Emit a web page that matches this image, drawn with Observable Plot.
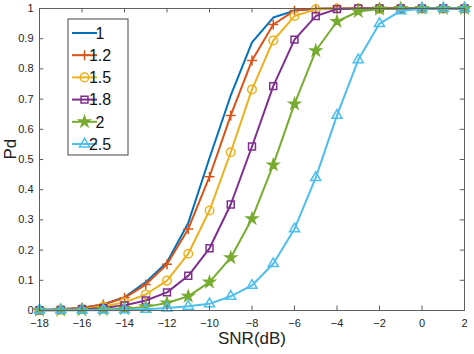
<!DOCTYPE html>
<html><head><meta charset="utf-8">
<script src="https://cdn.jsdelivr.net/npm/d3@7"></script>
<script src="https://cdn.jsdelivr.net/npm/@observablehq/plot@0.6"></script>
<style>body{margin:0;background:#fff}#chart{width:474px;height:354px}</style>
</head><body><div id="chart"></div>
<script>
const snr = [-18,-17,-16,-15,-14,-13,-12,-11,-10,-9,-8,-7,-6,-5,-4,-3,-2,-1,0,1,2];
const seriesNames = ["1","1.2","1.5","1.8","2","2.5"];
const colors = ["#0072BD","#D95319","#EDB120","#7E2F8E","#77AC30","#4DBEEE"];
const pd_1   = [0.002,0.004,0.008,0.020,0.044,0.094,0.160,0.290,0.505,0.712,0.888,0.970,0.993,0.999,1,1,1,1,1,1,1];
const pd_1_2 = [0.002,0.004,0.009,0.020,0.042,0.086,0.153,0.270,0.443,0.646,0.828,0.947,0.993,0.999,1,1,1,1,1,1,1];
const pd_1_5 = [0.001,0.003,0.006,0.013,0.027,0.053,0.099,0.188,0.331,0.524,0.732,0.894,0.975,0.997,1,1,1,1,1,1,1];
const pd_1_8 = [0.001,0.002,0.004,0.008,0.017,0.033,0.060,0.115,0.206,0.351,0.543,0.743,0.897,0.975,0.998,1,1,1,1,1,1];
const pd_2   = [0.001,0.001,0.002,0.003,0.006,0.012,0.025,0.047,0.094,0.175,0.304,0.482,0.684,0.860,0.957,0.990,0.998,1,1,1,1];
const pd_2_5 = [0.001,0.001,0.001,0.001,0.002,0.004,0.008,0.014,0.022,0.047,0.083,0.155,0.270,0.440,0.646,0.830,0.950,0.992,0.999,1,1];
const xTicks = [-18,-16,-14,-12,-10,-8,-6,-4,-2,0,2];
const yTicks = [0,0.1,0.2,0.3,0.4,0.5,0.6,0.7,0.8,0.9,1];
const xLabel = "SNR(dB)";
const yLabel = "Pd";

const values = [pd_1, pd_1_2, pd_1_5, pd_1_8, pd_2, pd_2_5];
// marker styles per series: symbol, r, filled
const markers = [null, {symbol:"plus", r:3.3, fill:false}, {symbol:"circle", r:4.3, fill:false},
  {symbol:"square2", r:4.4, fill:false}, {symbol:"star", r:3.4, fill:true}, {symbol:"triangle2", r:4.8, fill:false}];

const rows = [];
seriesNames.forEach((s, i) => snr.forEach((x, j) => rows.push({snr: x, pd: values[i][j], series: s})));

const axisColor = "#5f5f5f";
const seriesMarks = [];
seriesNames.forEach((s, i) => {
  const d = rows.filter(r => r.series === s);
  seriesMarks.push(Plot.line(d, {x: "snr", y: "pd", stroke: colors[i], strokeWidth: 2}));
  const m = markers[i];
  if (m) seriesMarks.push(Plot.dot(d, {x: "snr", y: "pd", symbol: () => m.symbol, r: m.r,
    stroke: colors[i], strokeWidth: 1.5, fill: m.fill ? colors[i] : "none"}));
});

const yFmt = d => String(+d.toFixed(1));

const plot = Plot.plot({
  width: 474, height: 354,
  marginTop: 8, marginBottom: 44, marginLeft: 39, marginRight: 10,
  style: {fontFamily: "'Liberation Sans', Arial, sans-serif", background: "#fff", color: "#262626", overflow: "visible"},
  x: {domain: [-18, 2]},
  y: {domain: [0, 1]},
  symbol: {type: "identity"},
  marks: [
    Plot.axisX(xTicks, {tickSize: 0, tickPadding: 9, fontSize: 11, label: null}),
    Plot.axisY(yTicks, {tickSize: 0, tickPadding: 6, fontSize: 11, label: null, tickFormat: yFmt}),
    ...seriesMarks,
    Plot.ruleX(xTicks, {x: d => d, y1: 0, y2: 0.015, stroke: axisColor}),
    Plot.ruleX(xTicks, {x: d => d, y1: 1, y2: 0.985, stroke: axisColor}),
    Plot.ruleY(yTicks, {y: d => d, x1: -18, x2: -17.8, stroke: axisColor}),
    Plot.ruleY(yTicks, {y: d => d, x1: 2, x2: 1.8, stroke: axisColor}),
    Plot.frame({stroke: axisColor, strokeWidth: 1}),
    Plot.text([xLabel], {text: d => d, frameAnchor: "bottom", dy: 33, fontSize: 17, fill: "#222"}),
    Plot.text([yLabel], {text: d => d, frameAnchor: "left", dx: -29, rotate: -90, fontSize: 17, fill: "#222"})
  ]
});

// legend
const svg = d3.select(plot);
const lg = svg.append("g").attr("font-family", "'Liberation Sans', Arial, sans-serif");
const lx = 68, ly = 19, lw = 60, lh = 136, step = 22.2;
lg.append("rect").attr("x", lx).attr("y", ly).attr("width", lw).attr("height", lh)
  .attr("fill", "#fff").attr("stroke", "#444").attr("stroke-width", 1);
const typeMap = {plus: d3.symbolPlus, circle: d3.symbolCircle, square2: d3.symbolSquare2, star: d3.symbolStar, triangle2: d3.symbolTriangle2};
seriesNames.forEach((s, i) => {
  const cy = ly + 14 + i * step;
  lg.append("line").attr("x1", lx + 4).attr("x2", lx + 29).attr("y1", cy).attr("y2", cy)
    .attr("stroke", colors[i]).attr("stroke-width", 2);
  const m = markers[i];
  if (m) {
    lg.append("path").attr("transform", `translate(${lx + 16.5},${cy})`)
      .attr("d", d3.symbol(typeMap[m.symbol], Math.PI * m.r * m.r)())
      .attr("stroke", colors[i]).attr("stroke-width", 1.5).attr("fill", m.fill ? colors[i] : "none");
  }
  lg.append("text").attr("x", lx + 32).attr("y", cy).attr("dy", "0.36em")
    .attr("font-size", 16).attr("fill", "#111").text(s);
});

document.getElementById("chart").appendChild(plot);
</script>
</body></html>
